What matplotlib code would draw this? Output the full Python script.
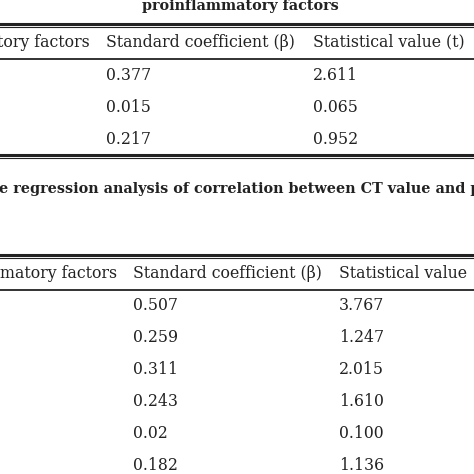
import matplotlib.pyplot as plt

# table 1 (top, cropped)
t1_header = ['tory factors', 'Standard coefficient (β)', 'Statistical value (t)']
t1_beta = ['0.377', '0.015', '0.217']
t1_t = ['2.611', '0.065', '0.952']

# table 2 (bottom, cropped)
t2_header = ['matory factors', 'Standard coefficient (β)', 'Statistical value']
t2_beta = ['0.507', '0.259', '0.311', '0.243', '0.02', '0.182']
t2_t = ['3.767', '1.247', '2.015', '1.610', '0.100', '1.136']

title1 = 'proinflammatory factors'
title2 = 'e regression analysis of correlation between CT value and p'

fig = plt.figure(figsize=(4.74, 4.74), dpi=100)
ax = fig.add_axes([0, 0, 1, 1])
ax.set_xlim(0, 474)
ax.set_ylim(474, 0)
ax.axis('off')

col = '#222222'
fs = 11.3
tfs = 10.4
serif = 'DejaVu Serif'

# top table
ax.text(240, 6, title1, ha='center', va='center', fontsize=tfs, fontweight='bold', family=serif, color=col)
ax.axhline(24, color=col, lw=2.2)
ax.axhline(26.5, color=col, lw=0.8)
ax.text(90, 42, t1_header[0], ha='right', va='center', fontsize=fs, family=serif, color=col)
ax.text(106, 42, t1_header[1], ha='left', va='center', fontsize=fs, family=serif, color=col)
ax.text(313, 42, t1_header[2], ha='left', va='center', fontsize=fs, family=serif, color=col)
ax.axhline(59, color=col, lw=1.3)
for i, (b, t) in enumerate(zip(t1_beta, t1_t)):
    y = 75 + i * 32.5
    ax.text(106, y, b, ha='left', va='center', fontsize=fs, family=serif, color=col)
    ax.text(313, y, t, ha='left', va='center', fontsize=fs, family=serif, color=col)
ax.axhline(155, color=col, lw=2.2)
ax.axhline(157.5, color=col, lw=0.8)

# caption of second table (cut at both edges, as in the source crop)
ax.text(-1, 189, title2, ha='left', va='center', fontsize=tfs, fontweight='bold', family=serif, color=col)

# bottom table
ax.axhline(255, color=col, lw=2.2)
ax.axhline(257.5, color=col, lw=0.8)
ax.text(117, 273, t2_header[0], ha='right', va='center', fontsize=fs, family=serif, color=col)
ax.text(133, 273, t2_header[1], ha='left', va='center', fontsize=fs, family=serif, color=col)
ax.text(339, 273, t2_header[2], ha='left', va='center', fontsize=fs, family=serif, color=col)
ax.axhline(290, color=col, lw=1.3)
for i, (b, t) in enumerate(zip(t2_beta, t2_t)):
    y = 306 + i * 31.8
    ax.text(133, y, b, ha='left', va='center', fontsize=fs, family=serif, color=col)
    ax.text(339, y, t, ha='left', va='center', fontsize=fs, family=serif, color=col)

fig.savefig('out.png', dpi=100)
